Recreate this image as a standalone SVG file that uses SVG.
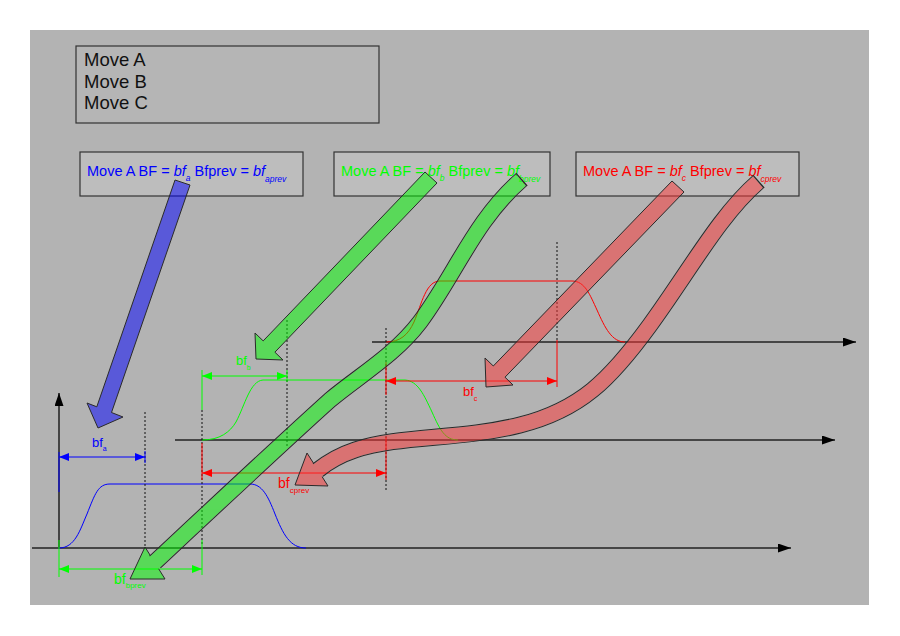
<svg xmlns="http://www.w3.org/2000/svg" width="900" height="636" viewBox="0 0 900 636">
<style>
.t{font-family:"Liberation Sans",Arial,sans-serif}
.box{fill:#bdbdbd;stroke:#333;stroke-width:1.2}
.ax{stroke:#222;stroke-width:1.5;fill:none}
.dot{stroke:#111;stroke-width:1;stroke-dasharray:2,2;fill:none}
.cv{fill:none;stroke-width:1}
.sub{font-size:8.5px;font-style:italic}
.it{font-style:italic}
.outl{fill:none;stroke:#2a2a2a;stroke-width:17}
.hd{stroke:#2a2a2a;stroke-width:1}
</style>
<defs>
<marker id="ax" viewBox="0 0 13 9" refX="13" refY="4.5" markerWidth="13" markerHeight="9" orient="auto" markerUnits="userSpaceOnUse"><path d="M0,0 L13,4.5 L0,9 z" fill="#000"/></marker>
<marker id="mb" viewBox="0 0 10 8" refX="10" refY="4" markerWidth="10" markerHeight="8" orient="auto-start-reverse" markerUnits="userSpaceOnUse"><path d="M0,0 L10,4 L0,8 z" fill="#00f"/></marker>
<marker id="mg" viewBox="0 0 10 8" refX="10" refY="4" markerWidth="10" markerHeight="8" orient="auto-start-reverse" markerUnits="userSpaceOnUse"><path d="M0,0 L10,4 L0,8 z" fill="#0f0"/></marker>
<marker id="mr" viewBox="0 0 10 8" refX="10" refY="4" markerWidth="10" markerHeight="8" orient="auto-start-reverse" markerUnits="userSpaceOnUse"><path d="M0,0 L10,4 L0,8 z" fill="#f00"/></marker>
<mask id="mG" maskUnits="userSpaceOnUse" x="0" y="0" width="900" height="636">
<rect width="900" height="636" fill="#fff"/>
<path d="M521,180 C475,220 455,275 420,322 C395,355 360,375 330,400 C280,445 200,520 155,562 L152.8,564" stroke="#000" stroke-width="15" fill="none"/>
</mask>
<mask id="mR" maskUnits="userSpaceOnUse" x="0" y="0" width="900" height="636">
<rect width="900" height="636" fill="#fff"/>
<path d="M758,182 C720,215 690,270 650,325 C610,380 580,410 520,425 C460,440 400,435 355,450 C340,455 328,462 318,470 L315.7,471.9" stroke="#000" stroke-width="15" fill="none"/>
</mask>
</defs>

<rect width="900" height="636" fill="#fff"/>
<rect x="30" y="30" width="839" height="575" fill="#b3b3b3"/>

<g id="legend">
<rect x="76" y="46" width="303" height="77" fill="#b5b5b5" stroke="#333" stroke-width="1.2"/>
<text class="t" x="84" y="66" font-size="18.5" fill="#111">Move A</text>
<text class="t" x="84" y="87.5" font-size="18.5" fill="#111">Move B</text>
<text class="t" x="84" y="109" font-size="18.5" fill="#111">Move C</text>
</g>

<g id="boxA">
<rect class="box" x="80" y="152" width="223" height="44"/>
<text class="t" x="87" y="176" font-size="14.5" fill="#00f">Move A BF = <tspan class="it">bf</tspan><tspan class="sub" dy="5">a</tspan><tspan dy="-5"> Bfprev = </tspan><tspan class="it">bf</tspan><tspan class="sub" dy="6">aprev</tspan></text>
</g>
<g id="boxB">
<rect class="box" x="334" y="152" width="216" height="44"/>
<text class="t" x="341" y="176" font-size="14.5" fill="#0f0">Move A BF = <tspan class="it">bf</tspan><tspan class="sub" dy="5">b</tspan><tspan dy="-5"> Bfprev = </tspan><tspan class="it">bf</tspan><tspan class="sub" dy="6">bprev</tspan></text>
</g>
<g id="boxC">
<rect class="box" x="576" y="152" width="223" height="44"/>
<text class="t" x="583" y="176" font-size="14.5" fill="#f00">Move A BF = <tspan class="it">bf</tspan><tspan class="sub" dy="5">c</tspan><tspan dy="-5"> Bfprev = </tspan><tspan class="it">bf</tspan><tspan class="sub" dy="6">cprev</tspan></text>
</g>

<g id="axes">
<line class="ax" x1="32" y1="548" x2="791" y2="548" marker-end="url(#ax)"/>
<line x1="59" y1="548" x2="59" y2="393" stroke="#444" stroke-width="2" marker-end="url(#ax)"/>
<line class="ax" x1="175" y1="440" x2="835" y2="440" marker-end="url(#ax)"/>
<line class="ax" x1="372" y1="342" x2="856" y2="342" marker-end="url(#ax)"/>
</g>

<g id="profiles">
<path class="cv" stroke="#00f" d="M59,548 C75,548 80,530 87,514 C95,494 98,484 110,484 L250,484 C262,484 268,496 275,514 C283,534 290,548 306,548"/>
<path class="cv" stroke="#0f0" d="M202,440 C220,440 230,432 236,422 C245,405 250,381 263,380 L405,380 C418,381 424,395 432,412 C440,430 445,440 458,440"/>
<path class="cv" stroke="#f00" d="M386,342 C400,342 408,335 414,322 C422,303 426,281 440,281 L572,281 C585,281 590,295 597,310 C605,328 612,342 625,342"/>
</g>

<g id="guides">
<line class="dot" x1="145" y1="412" x2="145" y2="548"/>
<line class="dot" x1="202" y1="410" x2="202" y2="545"/>
<line class="dot" x1="287" y1="320" x2="287" y2="447"/>
<line class="dot" x1="386" y1="328" x2="386" y2="490"/>
<line class="dot" x1="557" y1="242" x2="557" y2="340"/>
<line stroke="#00f" x1="59" y1="452" x2="59" y2="492"/>
<line stroke="#00f" x1="145" y1="451" x2="145" y2="463"/>
<line stroke="#0f0" x1="59" y1="540" x2="59" y2="577"/>
<line stroke="#0f0" x1="202" y1="540" x2="202" y2="575"/>
<line stroke="#0f0" x1="202" y1="370" x2="202" y2="410"/>
<line stroke="#0f0" x1="287" y1="370" x2="287" y2="382"/>
<line stroke="#f00" x1="202" y1="443" x2="202" y2="480"/>
<line stroke="#f00" x1="386" y1="362" x2="386" y2="395"/>
<line stroke="#f00" x1="386" y1="437" x2="386" y2="480"/>
<line stroke="#f00" x1="557" y1="340" x2="557" y2="387"/>
</g>

<g id="dimensions">
<line stroke="#00f" x1="59" y1="457" x2="145" y2="457" marker-start="url(#mb)" marker-end="url(#mb)"/>
<line stroke="#0f0" x1="202" y1="376" x2="287" y2="376" marker-start="url(#mg)" marker-end="url(#mg)"/>
<line stroke="#f00" x1="386" y1="381" x2="557" y2="381" marker-start="url(#mr)" marker-end="url(#mr)"/>
<line stroke="#f00" x1="202" y1="473" x2="386" y2="473" marker-start="url(#mr)" marker-end="url(#mr)"/>
<line stroke="#0f0" x1="59" y1="569" x2="202" y2="569" marker-start="url(#mg)" marker-end="url(#mg)"/>
</g>

<g id="connectors">
<polygon class="hd" fill="#00f" fill-opacity="0.5" points="175,180 190,185 111.5,412.5 123,417 98,428 87,403 96.8,406.8"/>
<polygon class="hd" fill="#0f0" fill-opacity="0.5" points="425,172 437,183 274.9,352.2 283,360 256,359 255,333 263.2,340.9"/>
<polygon class="hd" fill="#f33" fill-opacity="0.5" points="672,181 684,192 505,377.2 513,385 486,387 485,358 493.3,366"/>

<g opacity="0.5">
<path d="M521,180 C475,220 455,275 420,322 C395,355 360,375 330,400 C280,445 200,520 155,562 L152.8,564" stroke="#0f0" stroke-width="15" fill="none"/>
<polygon points="145,547 130,579 165,579" fill="#0f0"/>
</g>
<g mask="url(#mG)">
<path class="outl" d="M522,179.1 L521,180 C475,220 455,275 420,322 C395,355 360,375 330,400 C280,445 200,520 155,562"/>
<polygon class="hd" fill="none" points="145,547 130,579 165,579"/>
</g>

<g opacity="0.5">
<path d="M758,182 C720,215 690,270 650,325 C610,380 580,410 520,425 C460,440 400,435 355,450 C340,455 328,462 318,470 L315.7,471.9" stroke="#f33" stroke-width="15" fill="none"/>
<polygon points="307,453 295,485 328,486" fill="#f33"/>
</g>
<g mask="url(#mR)">
<path class="outl" d="M759,181.1 L758,182 C720,215 690,270 650,325 C610,380 580,410 520,425 C460,440 400,435 355,450 C340,455 328,462 318,470"/>
<polygon class="hd" fill="none" points="307,453 295,485 328,486"/>
</g>
</g>

<g id="dim-labels">
<text class="t" x="92" y="447" font-size="13" fill="#00f">bf<tspan font-size="7" dy="4">a</tspan></text>
<text class="t" x="236" y="365" font-size="13" fill="#0f0">bf<tspan font-size="7" dy="5">b</tspan></text>
<text class="t" x="463" y="396" font-size="13" fill="#f00">bf<tspan font-size="7" dy="5">c</tspan></text>
<text class="t" x="278" y="488" font-size="14" fill="#f00">bf<tspan font-size="8" dy="5">cprev</tspan></text>
<text class="t" x="114" y="584" font-size="14" fill="#0f0">bf<tspan font-size="8" dy="4">bprev</tspan></text>
</g>
</svg>
